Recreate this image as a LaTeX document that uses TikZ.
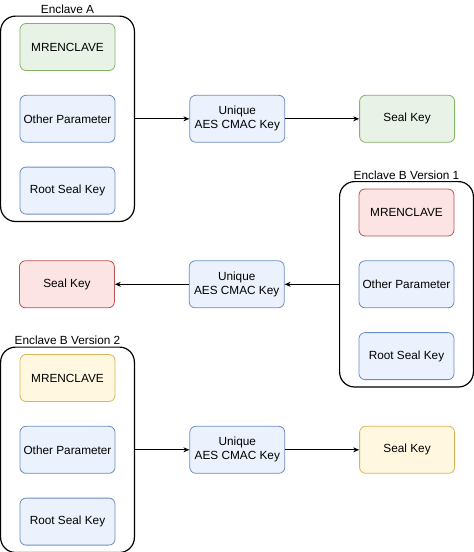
\documentclass[tikz,border=0pt]{standalone}
\usepackage{fontspec}
\setmainfont{Liberation Sans}
\usetikzlibrary{arrows.meta, positioning, fit}
\usepackage{xcolor}

\definecolor{blueline}{HTML}{6C8EBF}
\definecolor{bluefill}{HTML}{DAE8FC}
\definecolor{greenline}{HTML}{82B366}
\definecolor{greenfill}{HTML}{D5E8D4}
\definecolor{redline}{HTML}{B85450}
\definecolor{redfill}{HTML}{F8CECC}
\definecolor{yellowline}{HTML}{D6B656}
\definecolor{yellowfill}{HTML}{FFF2CC}

\begin{document}
\begin{tikzpicture}[
x=1pt, y=-1pt,
node distance=24pt and 74pt,
font=\fontsize{11.8}{14}\selectfont,
box/.style={draw,
rectangle,
rounded corners=6pt,
line width=0.8pt,
minimum width=95pt,
minimum height=47pt,
inner sep=1pt,
align=center},
bluebox/.style={box, draw=blueline, fill=bluefill!55!white},
greenbox/.style={box, draw=greenline, fill=greenfill!55!white},
redbox/.style={box, draw=redline, fill=redfill!55!white},
yellowbox/.style={box, draw=yellowline, fill=yellowfill!60!white},
enclave/.style={draw, line width=1.2pt, rounded corners=15pt,
inner xsep=19pt, inner ysep=7pt},
arrow/.style={-{Stealth[length=6pt,width=5pt]}, line width=0.8pt}
]
\useasboundingbox (0,0) rectangle (474,552);

% Enclave A
\node[greenbox] (mrA) at (67.5,47) {MRENCLAVE};
\node[bluebox, below=of mrA] (otherA) {Other Parameter};
\node[bluebox, below=of otherA] (rootA) {Root Seal Key};
\node[enclave, fit=(mrA) (rootA),
label={[inner sep=1.5pt]above:Enclave A}] (encA) {};
\node[bluebox, right=of otherA] (cmacA) {Unique\\AES CMAC Key};
\node[greenbox, right=of cmacA] (sealA) {Seal Key};

% Enclave B Version 1
\node[redbox] (mrB1) at (406.5,212.5) {MRENCLAVE};
\node[bluebox, below=of mrB1] (otherB1) {Other Parameter};
\node[bluebox, below=of otherB1] (rootB1) {Root Seal Key};
\node[enclave, fit=(mrB1) (rootB1),
label={[inner sep=1.5pt]above:Enclave B Version 1}] (encB1) {};
\node[bluebox, left=of otherB1] (cmacB1) {Unique\\AES CMAC Key};
\node[redbox, left=of cmacB1] (sealB1) {Seal Key};

% Enclave B Version 2
\node[yellowbox] (mrB2) at (67.5,378) {MRENCLAVE};
\node[bluebox, below=of mrB2] (otherB2) {Other Parameter};
\node[bluebox, below=of otherB2] (rootB2) {Root Seal Key};
\node[enclave, fit=(mrB2) (rootB2),
label={[inner sep=1.5pt]above:Enclave B Version 2}] (encB2) {};
\node[bluebox, right=of otherB2] (cmacB2) {Unique\\AES CMAC Key};
\node[yellowbox, right=of cmacB2] (sealB2) {Seal Key};

\draw[arrow] (encA) -- (cmacA);
\draw[arrow] (cmacA) -- (sealA);
\draw[arrow] (encB1) -- (cmacB1);
\draw[arrow] (cmacB1) -- (sealB1);
\draw[arrow] (encB2) -- (cmacB2);
\draw[arrow] (cmacB2) -- (sealB2);

\end{tikzpicture}
\end{document}
